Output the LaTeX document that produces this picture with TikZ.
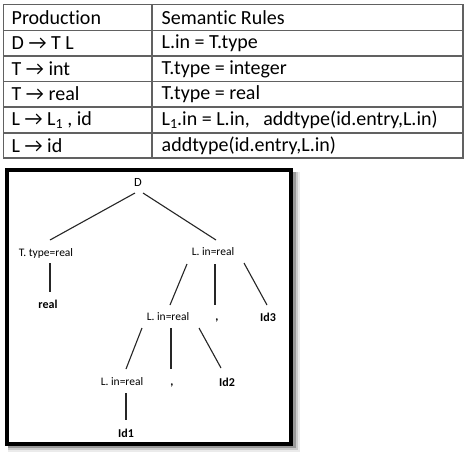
\documentclass[tikz,border=0pt]{standalone}
\usepackage{fontspec}
\setmainfont[Ligatures=NoCommon]{Carlito}
\usetikzlibrary{calc}
\newcommand{\subone}{\raisebox{-0.35ex}{\fontsize{14}{14}\selectfont 1}}
\begin{document}
\begin{tikzpicture}[x=1pt,y=-1pt,
  cell/.style={anchor=west, inner sep=0pt, font=\fontsize{20}{22}\selectfont},
  tnode/.style={inner sep=0pt, font=\fontsize{11.5}{13}\selectfont},
  leaf/.style={inner sep=0pt, font=\fontsize{12}{13}\selectfont\bfseries},
  gridline/.style={draw=black!62, line width=1.3pt},
  edge/.style={draw=black!85, line width=1.1pt}
]
\useasboundingbox (0,0) rectangle (476,453);
% ---------- table ----------
\draw[gridline] (3.5,4.5) rectangle (463,158);
\foreach \yy in {30.5,56,81.5,107,133} \draw[gridline] (3.5,\yy) -- (463,\yy);
\draw[gridline] (152,4.5) -- (152,158);
\node[cell] (p0) at (11.5,17.5) {Production};
\node[cell] (s0) at (161.5,17.5) {Semantic Rules};
\node[cell] (p1) at (11.5,43) {D → T L};
\node[cell] (s1) at (161.5,43) {L.in = T.type};
\node[cell] (p2) at (11.5,69) {T → int};
\node[cell] (s2) at (161.5,69) {T.type = integer};
\node[cell] (p3) at (11.5,94) {T → real};
\node[cell] (s3) at (161.5,94) {T.type = real};
\node[cell] (p4) at (11.5,120) {L → L\subone\ , id};
\node[cell] (s4) at (161.5,120) {L\subone.in = L.in,\ \ \ addtype(id.entry,L.in)};
\node[cell] (p5) at (11.5,145.5) {L → id};
\node[cell] (s5) at (161.5,145.5) {addtype(id.entry,L.in)};
% ---------- framed tree ----------
\fill[black!8] (8,172) rectangle (300,452);
\fill[black!20] (8,172) rectangle (298,450);
\fill[black!40] (8,172) rectangle (296,448);
\filldraw[fill=white, draw=black, line width=4pt] (6.5,170) rectangle (291,444);
\node[tnode, font=\fontsize{12.5}{14}\selectfont] (D) at (138,182) {D};
\node[tnode] (T) at (46,253) {T. type=real};
\node[tnode] (La) at (213,252) {L. in=real};
\node[leaf] (real) at (48,304) {real};
\node[tnode] (Lb) at (168,317) {L. in=real};
\node[leaf] (c1) at (217,320) {,};
\node[leaf] (id3) at (268,317) {Id3};
\node[tnode] (Lc) at (122,382) {L. in=real};
\node[leaf] (c2) at (172,385) {,};
\node[leaf] (id2) at (227,382) {Id2};
\node[leaf] (id1) at (126,433) {Id1};
\draw[edge] ($(D)+(-3,11)$) -- ($(T)+(4,-13)$);
\draw[edge] ($(D)+(5,11)$) -- ($(La)+(3,-12)$);
\draw[edge] ($(T)+(4,10)$) -- ($(real)+(2,-12)$);
\draw[edge] ($(La)+(-26,12)$) -- ($(Lb)+(2,-12)$);
\draw[edge] ($(La)+(2,12)$) -- ($(c1)+(-2,-15)$);
\draw[edge] ($(La)+(31,11)$) -- ($(id3)+(-1,-12)$);
\draw[edge] ($(Lb)+(-26,11)$) -- ($(Lc)+(4,-13)$);
\draw[edge] ($(Lb)+(3,11)$) -- ($(c2)+(-1,-16)$);
\draw[edge] ($(Lb)+(31,11)$) -- ($(id2)+(-6,-14)$);
\draw[edge] ($(Lc)+(4,11)$) -- ($(id1)+(0,-13)$);
\end{tikzpicture}
\end{document}
